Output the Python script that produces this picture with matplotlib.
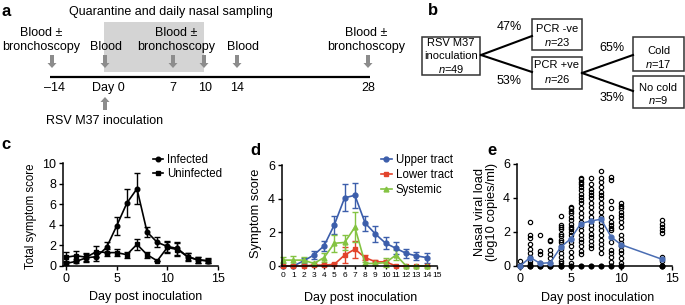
import matplotlib
matplotlib.use('Agg')
import matplotlib.pyplot as plt
from matplotlib.patches import Rectangle, FancyArrow
import numpy as np

plt.rcParams['font.family'] = ['Liberation Sans', 'DejaVu Sans']
plt.rcParams['mathtext.fontset'] = 'custom'
plt.rcParams['mathtext.rm'] = 'Liberation Sans'
plt.rcParams['mathtext.it'] = 'Liberation Sans:italic'

# ---------------- data ----------------
# panel a (timeline)
tl_days = ['–14', 'Day 0', '7', '10', '14', '28']
tl_events = ['Blood ±\nbronchoscopy', 'Blood', 'Blood ±\nbronchoscopy', 'Blood', 'Blood ±\nbronchoscopy']
tl_title = 'Quarantine and daily nasal sampling'
tl_inoc = 'RSV M37 inoculation'

# panel b (flow)
n_total = 49
n_neg = 23
n_pos = 26
n_cold = 17
n_nocold = 9

# panel c
c_days = list(range(15))
inf_mean = [0.25, 0.45, 0.8, 0.9, 1.8, 3.9, 6.1, 7.5, 3.3, 2.3, 1.9, 1.7, 0.9, 0.6, 0.5]
inf_err = [0.2, 0.2, 0.4, 0.4, 0.5, 0.9, 1.35, 1.5, 0.5, 0.5, 0.5, 0.6, 0.4, 0.3, 0.25]
uninf_mean = [0.85, 1.0, 0.85, 1.4, 1.3, 1.3, 1.1, 2.1, 1.1, 0.5, 1.8, 1.6, 0.9, 0.6, 0.5]
uninf_err = [0.5, 0.5, 0.4, 0.5, 0.35, 0.35, 0.3, 0.5, 0.3, 0.0, 0.5, 0.6, 0.35, 0.3, 0.2]

# panel d
d_days = list(range(15))
upper_mean = [0.0, 0.0, 0.3, 0.65, 1.2, 2.45, 4.05, 4.2, 2.55, 1.9, 1.35, 1.05, 0.75, 0.6, 0.5]
upper_err = [0.0, 0.0, 0.2, 0.25, 0.3, 0.55, 0.8, 0.75, 0.45, 0.5, 0.35, 0.35, 0.25, 0.25, 0.3]
lower_mean = [0.0, 0.0, 0.0, 0.05, 0.05, 0.1, 0.65, 1.0, 0.5, 0.25, 0.25, 0.0, 0.0, 0.0, 0.0]
lower_err = [0.0, 0.0, 0.0, 0.05, 0.05, 0.05, 0.5, 0.5, 0.15, 0.1, 0.1, 0.0, 0.0, 0.0, 0.0]
syst_mean = [0.35, 0.35, 0.35, 0.15, 0.5, 1.35, 1.4, 2.3, 0.15, 0.15, 0.2, 0.65, 0.0, 0.0, 0.0]
syst_err = [0.2, 0.25, 0.2, 0.1, 0.25, 0.5, 0.45, 0.9, 0.1, 0.1, 0.25, 0.3, 0.0, 0.0, 0.0]

# panel e
vl_d0 = [0.3, 0, 0, 0]
vl_d1 = [2.6, 1.8, 1.65, 1.3, 1.0, 0.75, 0.55, 0.3, 0.1, 0, 0, 0]
vl_d2 = [1.8, 0.9, 0.7, 0.15, 0, 0, 0]
vl_d3 = [1.55, 1.45, 0.95, 0.7, 0.45, 0.15, 0, 0, 0]
vl_d4 = [2.95, 2.4, 2.3, 2.2, 1.9, 1.75, 1.55, 1.4, 1.15, 1.0, 0.75, 0.55, 0.3, 0.15, 0, 0, 0]
vl_d5 = [3.5, 3.4, 3.25, 3.1, 2.9, 2.7, 2.5, 2.3, 2.2, 2.0, 1.8, 1.6, 1.4, 1.2, 0.85, 0.55, 0.2, 0, 0]
vl_d6 = [5.2, 5.1, 4.95, 4.8, 4.65, 4.45, 4.25, 4.05, 3.9, 3.7, 3.4, 3.1, 2.9, 2.6, 2.35, 2.1,
         1.8, 1.6, 1.4, 1.15, 0.9, 0.7, 0, 0]
vl_d7 = [5.15, 4.8, 4.55, 4.35, 4.2, 4.0, 3.7, 3.5, 3.2, 2.9, 2.65, 2.4, 2.2, 1.9, 1.7, 1.5,
         1.25, 1.05, 0, 0]
vl_d8 = [5.6, 5.15, 4.95, 4.65, 4.35, 4.15, 4.0, 3.7, 3.5, 3.2, 2.9, 2.6, 2.35, 2.1, 1.8,
         1.55, 1.3, 1.05, 0.75, 0, 0]
vl_d9 = [5.25, 5.05, 3.85, 3.4, 2.9, 2.6, 2.4, 2.25, 2.1, 1.4, 0.95, 0.75, 0.55, 0.25, 0, 0]
vl_d10 = [3.7, 3.55, 3.4, 3.2, 3.0, 2.8, 2.6, 2.3, 1.8, 1.6, 1.35, 1.15, 0.95, 0.75, 0.45, 0.2, 0, 0]
vl_d14 = [2.7, 2.5, 2.3, 2.1, 1.95, 0.55, 0.3, 0, 0, 0]
vl_days = [0, 1, 2, 3, 4, 5, 6, 7, 8, 9, 10, 14]
vl_mean = [0.0, 0.5, 0.15, 0.2, 1.1, 1.6, 2.5, 2.65, 2.75, 1.7, 1.25, 0.4]

# ---------------- layout ----------------
W, H = 685, 305
fig = plt.figure(figsize=(W / 100, H / 100), dpi=100)

def fx(x):
    return x / W

def fy(y):
    return 1 - y / H

ov = fig.add_axes([0, 0, 1, 1])
ov.set_xlim(0, W)
ov.set_ylim(H, 0)
ov.axis('off')

grey = '#8c8c8c'
fs = 9

# panel letters
for letter, x, y in [('a', 2, 16), ('b', 428, 15), ('c', 1, 149), ('d', 250, 155), ('e', 487, 155)]:
    fig.text(fx(x), fy(y), letter, fontsize=12, fontweight='bold', va='baseline', ha='left')

# ---- panel a ----
tl_x = [52, 105, 173, 204, 237, 368]
ov.add_patch(Rectangle((104, 22), 100, 50, facecolor='#d4d4d4', edgecolor='none', zorder=0))
ov.plot([50, 370], [77, 77], color='black', lw=1.6, solid_capstyle='butt')
for x in tl_x:
    ov.add_patch(FancyArrow(x, 55, 0, 13, width=4, head_width=9, head_length=5,
                            length_includes_head=True, color=grey, lw=0))
ov.add_patch(FancyArrow(105, 110, 0, -13, width=4, head_width=9, head_length=5,
                        length_includes_head=True, color=grey, lw=0))
lab_x = [55, 108, 173, 205, 237, 368]
for lab, x in zip(tl_days, lab_x):
    ov.text(x, 88, lab, ha='center', va='center', fontsize=fs)
ev_x = [41, 106, 176, 243, 366]
for ev, x in zip(tl_events, ev_x):
    ov.text(x, 53, ev, ha='center', va='bottom', fontsize=fs, linespacing=1.25)
ov.text(171, 12, tl_title, ha='center', va='center', fontsize=fs)
ov.text(105, 121, tl_inoc, ha='center', va='center', fontsize=fs)

# ---- panel b ----
def box(x0, x1, y0, y1, lines, ys):
    ov.add_patch(Rectangle((x0, y0), x1 - x0, y1 - y0, facecolor='white',
                           edgecolor='#333333', lw=1.1))
    for t, yy in zip(lines, ys):
        ov.text((x0 + x1) / 2, yy, t, ha='center', va='center', fontsize=8)

box(422, 480, 37, 75, ['RSV M37', 'inoculation', '$n$=%d' % n_total], [43.5, 56, 69])
box(532, 582, 19, 50, ['PCR -ve', '$n$=%d' % n_neg], [28.5, 42])
box(532, 582, 57, 89, ['PCR +ve', '$n$=%d' % n_pos], [65.5, 79])
box(633, 684, 37, 71, ['Cold', '$n$=%d' % n_cold], [51, 63.5])
box(633, 684, 76, 108, ['No cold', '$n$=%d' % n_nocold], [88, 100.5])
for (x0, y0, x1, y1) in [(481, 55, 532, 36), (481, 55, 532, 72),
                         (582, 73, 633, 55), (582, 73, 633, 91)]:
    ov.plot([x0, x1], [y0, y1], color='black', lw=1.5)
ov.text(509, 27, '%d%%' % round(100 * n_neg / n_total), ha='center', va='center', fontsize=fs)
ov.text(509, 81, '%d%%' % round(100 * n_pos / n_total), ha='center', va='center', fontsize=fs)
ov.text(612, 48, '%d%%' % round(100 * n_cold / n_pos), ha='center', va='center', fontsize=fs)
ov.text(612, 98, '%d%%' % round(100 * n_nocold / n_pos), ha='center', va='center', fontsize=fs)


def style(ax):
    for s in ['top', 'right']:
        ax.spines[s].set_visible(False)
    for s in ['left', 'bottom']:
        ax.spines[s].set_linewidth(1.1)
    ax.tick_params(direction='out', length=3, width=1.0, labelsize=fs, pad=2)


# ---- panel c ----
axc = fig.add_axes([fx(63), fy(266), 155 / W, 103 / H])
style(axc)
axc.errorbar(c_days, inf_mean, yerr=inf_err, color='black', marker='o', ms=3.3, lw=1.2,
             capsize=2.5, elinewidth=1.0, capthick=1.0, label='Infected', clip_on=False)
axc.errorbar(c_days, uninf_mean, yerr=uninf_err, color='black', marker='s', ms=3.3, lw=1.2,
             capsize=2.5, elinewidth=1.0, capthick=1.0, label='Uninfected', clip_on=False)
axc.set_xlim(-0.3, 15)
axc.set_ylim(0, 10)
axc.set_xticks([0, 5, 10, 15])
axc.set_yticks([0, 2, 4, 6, 8, 10])
axc.set_xlabel('Day post inoculation', fontsize=fs)
axc.set_ylabel('Total symptom score', fontsize=8.3)
axc.xaxis.set_label_coords(0.53, -0.24)
axc.yaxis.set_label_coords(-0.165, 0.48)
h, l = axc.get_legend_handles_labels()
h = [hh[0] for hh in h]
axc.legend(h, l, loc='upper left', bbox_to_anchor=(0.58, 1.09), frameon=False, fontsize=8.3,
           handlelength=0.9, handletextpad=0.35, labelspacing=0.2, borderpad=0, borderaxespad=0)

# ---- panel d ----
axd = fig.add_axes([fx(282), fy(266), 155 / W, 101 / H])
style(axd)
col_up, col_lo, col_sy = '#3c5eab', '#e2432b', '#84c342'
for m, e, c, mk, lab in [(upper_mean, upper_err, col_up, 'o', 'Upper tract'),
                         (lower_mean, lower_err, col_lo, 's', 'Lower tract'),
                         (syst_mean, syst_err, col_sy, '^', 'Systemic')]:
    axd.errorbar(d_days, m, yerr=e, color=c, marker=mk, ms=3.5, lw=1.2, capsize=2.5,
                 elinewidth=1.0, capthick=1.0, label=lab, clip_on=False)
axd.set_xlim(-0.1, 15)
axd.set_ylim(0, 6)
axd.set_xticks(range(16))
axd.set_yticks([0, 2, 4, 6])
axd.tick_params(axis='x', labelsize=6, length=2.5)
axd.set_xlabel('Day post inoculation', fontsize=fs)
axd.set_ylabel('Symptom score', fontsize=9.3)
axd.xaxis.set_label_coords(0.506, -0.255)
axd.yaxis.set_label_coords(-0.13, 0.52)
h, l = axd.get_legend_handles_labels()
h = [hh[0] for hh in h]
axd.legend(h, l, loc='upper left', bbox_to_anchor=(0.64, 1.11), frameon=False, fontsize=8.3,
           handlelength=0.9, handletextpad=0.35, labelspacing=0.25, borderpad=0, borderaxespad=0)

# ---- panel e ----
axe = fig.add_axes([fx(517), fy(266), 155 / W, 102 / H])
style(axe)
vl_all = [vl_d0, vl_d1, vl_d2, vl_d3, vl_d4, vl_d5, vl_d6, vl_d7, vl_d8, vl_d9, vl_d10, vl_d14]
for d, vals in zip(vl_days, vl_all):
    pos = [v for v in vals if v > 0]
    zer = [v for v in vals if v == 0]
    axe.plot([d] * len(pos), pos, linestyle='none', marker='o', ms=3.1, mfc='none',
             mec='black', mew=0.85, clip_on=False, zorder=2)
    axe.plot([d] * len(zer), zer, linestyle='none', marker='o', ms=3.3, mfc='black',
             mec='black', mew=0.85, clip_on=False, zorder=2)
axe.plot(vl_days, vl_mean, color='#4a6db3', marker='o', ms=3.5, lw=1.1, clip_on=False, zorder=3)
axe.set_xlim(-0.3, 15)
axe.set_ylim(0, 6)
axe.set_xticks([0, 5, 10, 15])
axe.set_yticks([0, 2, 4, 6])
axe.set_xlabel('Day post inoculation', fontsize=fs)
axe.set_ylabel('Nasal viral load\n(log10 copies/ml)', fontsize=9.3, linespacing=1.05)
axe.xaxis.set_label_coords(0.52, -0.255)
axe.yaxis.set_label_coords(-0.12, 0.53)

fig.savefig('out.png', dpi=100)
